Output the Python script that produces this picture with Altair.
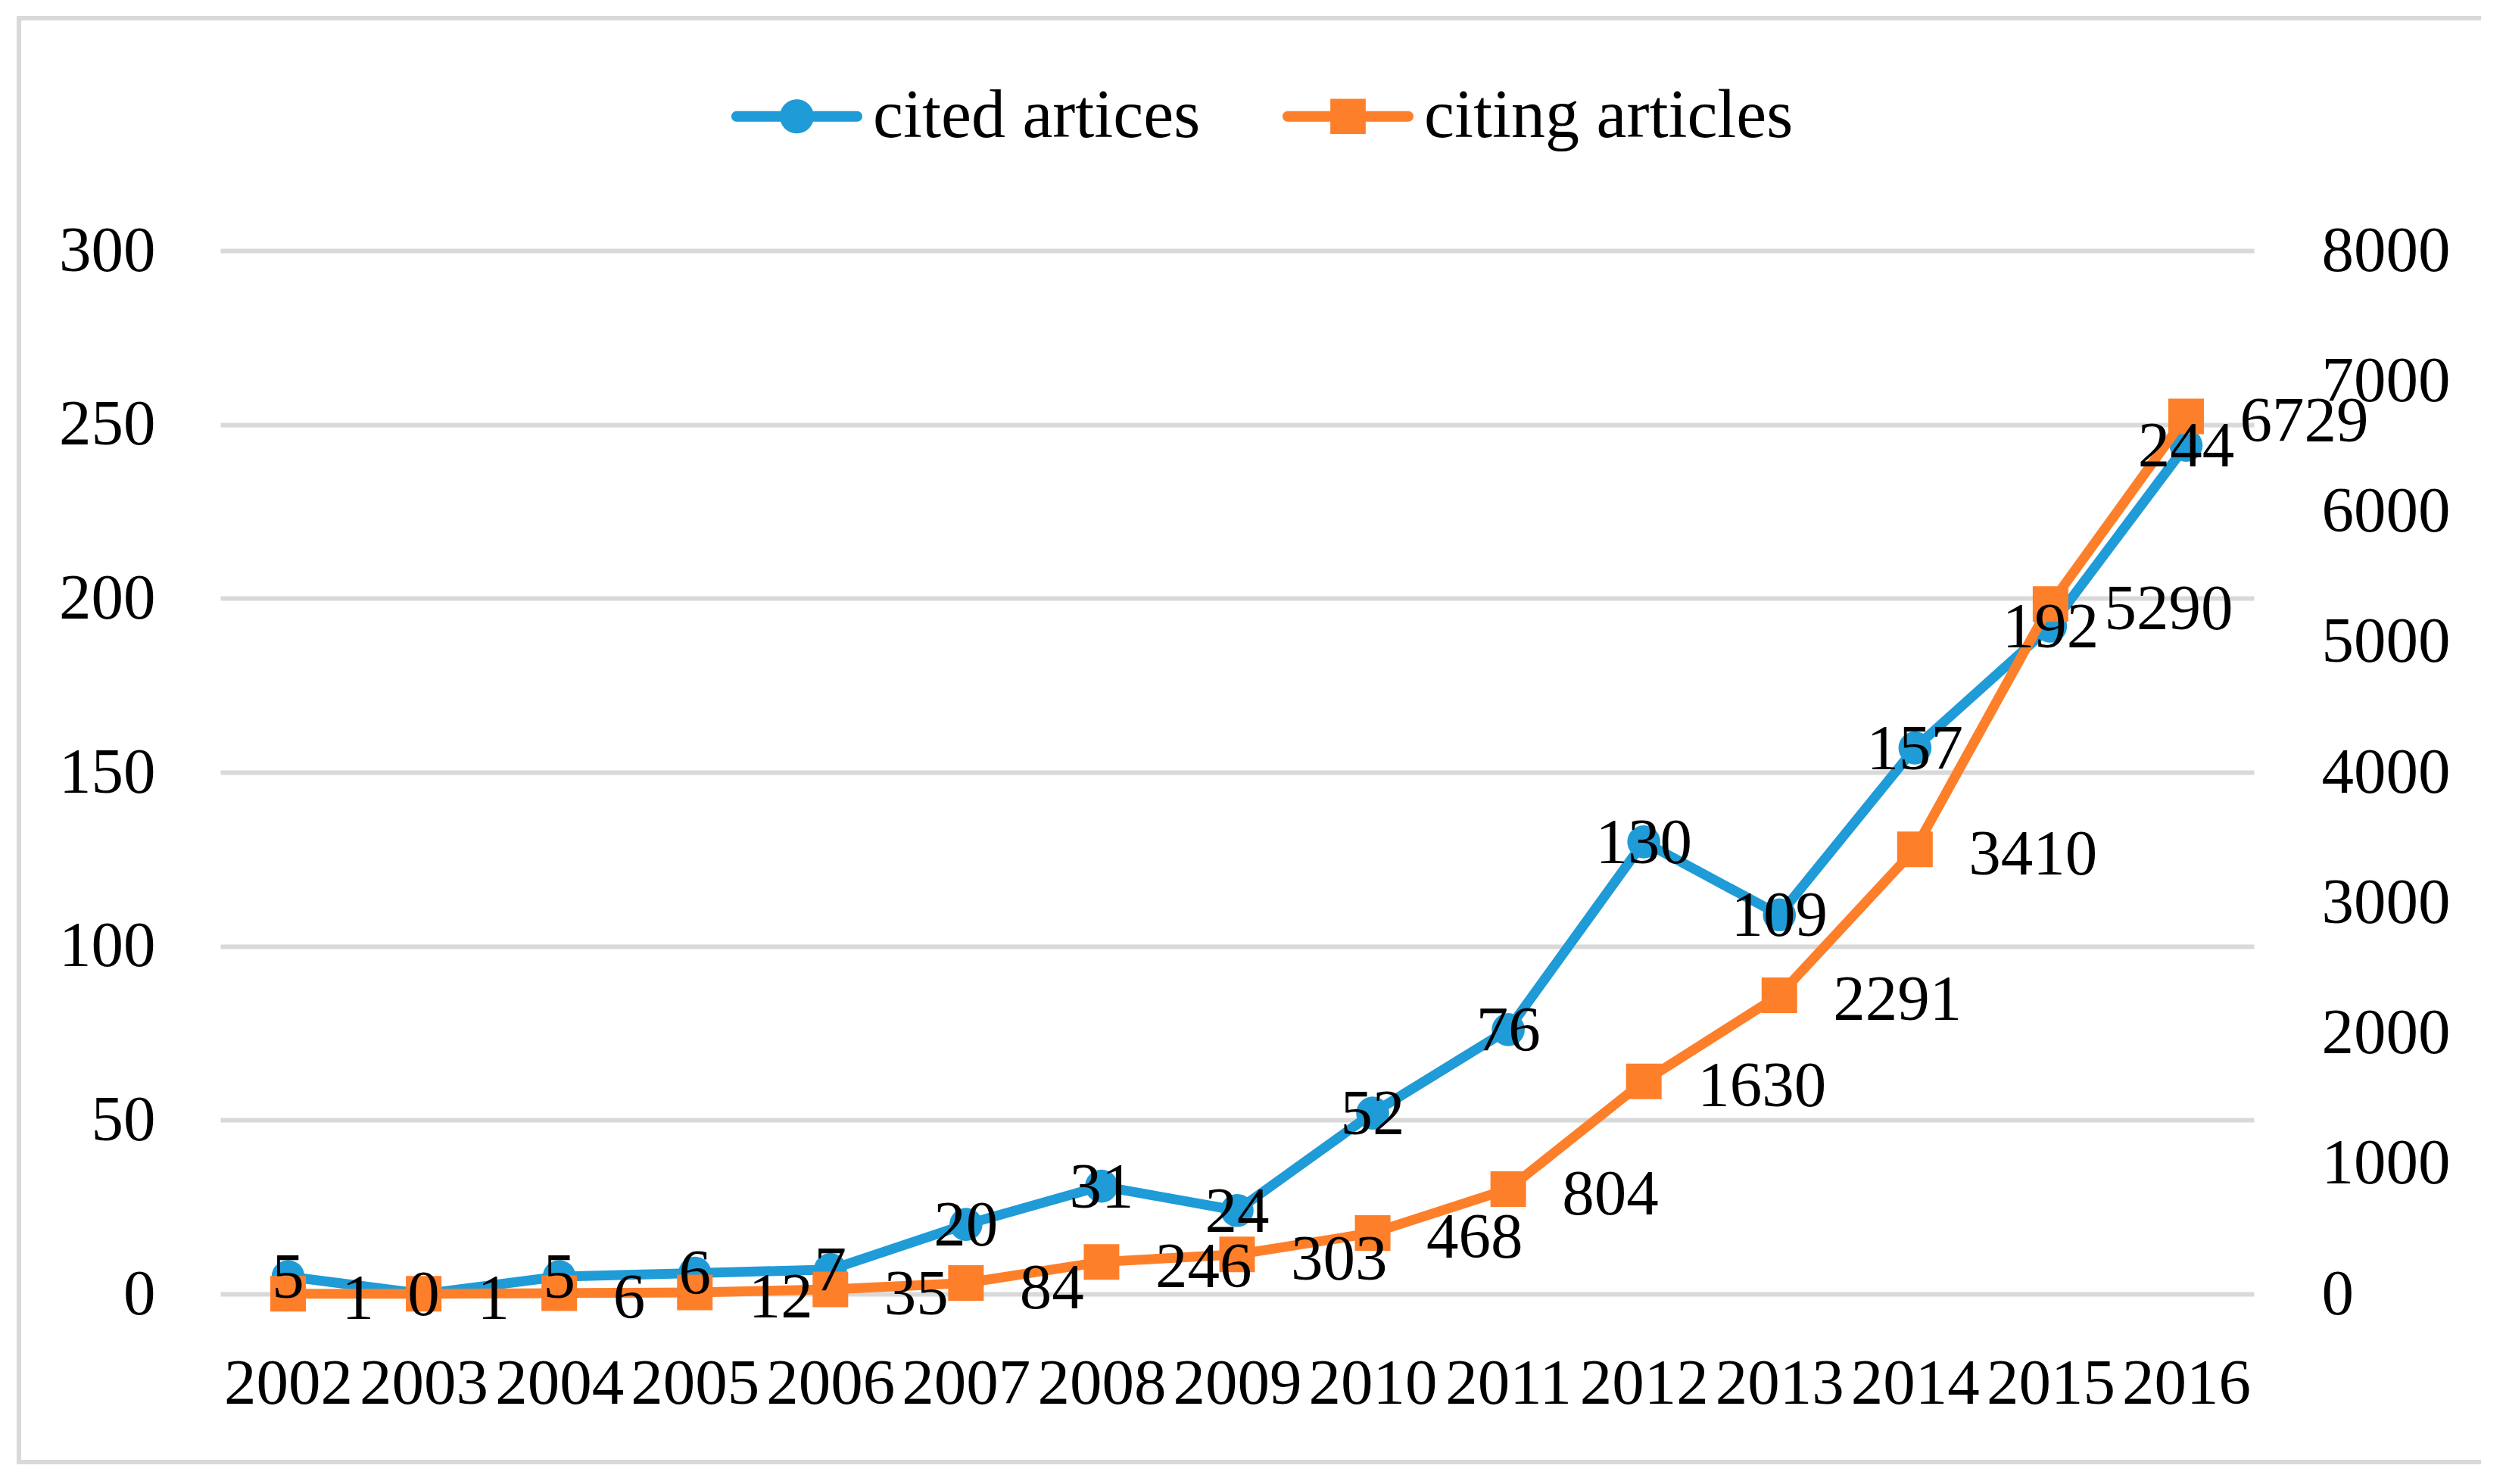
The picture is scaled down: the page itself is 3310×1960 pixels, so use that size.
import altair as alt
import pandas as pd

years = ["2002", "2003", "2004", "2005", "2006", "2007", "2008", "2009",
         "2010", "2011", "2012", "2013", "2014", "2015", "2016"]
cited = [5, 0, 5, 6, 7, 20, 31, 24, 52, 76, 130, 109, 157, 192, 244]
citing = [1, 1, 6, 12, 35, 84, 246, 303, 468, 804, 1630, 2291, 3410, 5290, 6729]
series_names = ["cited artices", "citing articles"]
series_colors = ["#1F9BD7", "#FE7F2A"]
left_ticks = [0, 50, 100, 150, 200, 250, 300]
right_ticks = [0, 1000, 2000, 3000, 4000, 5000, 6000, 7000, 8000]

df = pd.DataFrame({"year": years, "cited": cited, "citing": citing})
legend_df = pd.DataFrame({"series": series_names})
frame_df = pd.DataFrame({"k": [0]})

FONT = "Liberation Serif"
FS = 85
W, H = 2686, 1378
BLUE, ORANGE = series_colors
GRID = "#D9D9D9"

x_enc = alt.X(
    "year:O", sort=years,
    scale=alt.Scale(type="point", padding=0.5),
    axis=alt.Axis(title=None, labelAngle=0, domain=False, ticks=False, grid=False,
                  labelFont=FONT, labelFontSize=FS, labelColor="black",
                  labelPadding=118, labelBaseline="middle"),
)

left_axis = alt.Axis(title=None, values=left_ticks, domain=False, ticks=False,
                     grid=True, gridColor=GRID, gridWidth=6,
                     labelFont=FONT, labelFontSize=FS, labelColor="black",
                     labelPadding=86, orient="left")
right_axis = alt.Axis(title=None, values=right_ticks, domain=False, ticks=False,
                      grid=False, format="d",
                      labelFont=FONT, labelFontSize=FS, labelColor="black",
                      labelPadding=89, orient="right", labelAlign="left")

lscale = alt.Scale(domain=[0, 300], nice=False, zero=True)
rscale = alt.Scale(domain=[0, 8000], nice=False, zero=True)


def yl(axis=None):
    return alt.Y("cited:Q", scale=lscale, axis=axis)


def yr(axis=None):
    return alt.Y("citing:Q", scale=rscale, axis=axis)


base = alt.Chart(df)

frame = alt.Chart(frame_df).mark_rect(
    fill="white", fillOpacity=0, stroke=GRID, strokeWidth=6
).encode(
    x=alt.value(-266), x2=alt.value(2992), y=alt.value(-307), y2=alt.value(1600)
)

blue_line = base.mark_line(color=BLUE, strokeWidth=13, strokeJoin="round",
                           strokeCap="round").encode(x=x_enc, y=yl(left_axis))
blue_pts = base.mark_point(shape="circle", filled=True, size=1900, opacity=1,
                           color=BLUE).encode(x=x_enc, y=yl())
orange_line = base.mark_line(color=ORANGE, strokeWidth=13, strokeJoin="round",
                             strokeCap="round").encode(x=x_enc, y=yr(right_axis))
orange_pts = base.mark_point(shape="square", filled=True, size=2209, opacity=1,
                             color=ORANGE).encode(x=x_enc, y=yr())
blue_text = base.mark_text(font=FONT, fontSize=FS, color="black", align="center",
                           baseline="middle", dy=2).encode(x=x_enc, y=yl(), text="cited:Q")
orange_text = base.mark_text(font=FONT, fontSize=FS, color="black", align="left",
                             baseline="middle", dx=71, dy=7).encode(
    x=x_enc, y=yr(), text="citing:Q")

bar = ("M-0.919,-0.081L0.919,-0.081A0.081,0.081,0,0,1,0.919,0.081"
       "L-0.919,0.081A0.081,0.081,0,0,1,-0.919,-0.081Z")
circ = "M0.26,0A0.26,0.26,0,1,1,-0.26,0A0.26,0.26,0,1,1,0.26,0Z"
sq = "M-0.27,-0.27L0.27,-0.27L0.27,0.27L-0.27,0.27Z"
shape_paths = [bar + circ, bar + sq]

leg = alt.Legend(title=None, orient="none", legendX=675, legendY=-264,
                 direction="horizontal", symbolSize=29929, symbolStrokeWidth=0,
                 labelFont=FONT, labelFontSize=90, labelColor="black",
                 labelOffset=14, columnPadding=108, padding=0, labelLimit=2000,
                 symbolOpacity=1)

legend_layer = alt.Chart(legend_df).transform_filter("false").mark_point(
    filled=True, opacity=1
).encode(
    color=alt.Color("series:N", scale=alt.Scale(domain=series_names, range=series_colors),
                    legend=leg),
    shape=alt.Shape("series:N", scale=alt.Scale(domain=series_names, range=shape_paths),
                    legend=leg),
)

chart = alt.layer(
    frame, blue_line, blue_pts, orange_line, orange_pts, blue_text, orange_text,
    legend_layer
).resolve_scale(y="independent").properties(
    width=W, height=H,
    padding={"left": 283, "top": 323, "right": 300, "bottom": 230},
    autosize=alt.AutoSizeParams(type="none"),
    background="white",
).configure_view(stroke=None)

chart.save("out.html", embed_options={"renderer": "svg", "actions": False})
